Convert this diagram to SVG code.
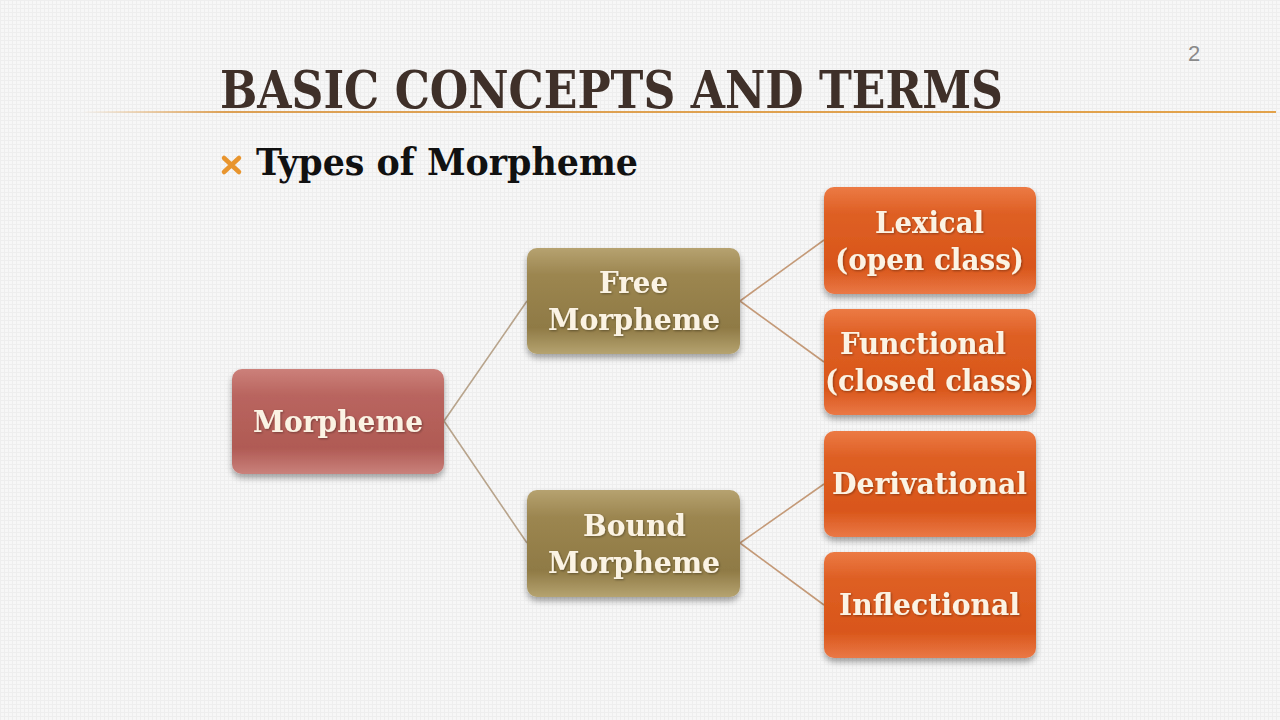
<svg xmlns="http://www.w3.org/2000/svg" width="1280" height="720" viewBox="0 0 1280 720">
<defs>
<pattern id="grid" width="4" height="4" patternUnits="userSpaceOnUse">
<rect width="4" height="4" fill="#f7f7f7"/>
<path d="M0 0.5H4M0.5 0V4" stroke="#eeeeee" stroke-width="1"/>
</pattern>
<linearGradient id="rule" x1="0" x2="1" y1="0" y2="0">
<stop offset="0" stop-color="#e0a050" stop-opacity="0"/>
<stop offset="0.12" stop-color="#dca055"/>
<stop offset="1" stop-color="#e2a24a"/>
</linearGradient>
<linearGradient id="gRose" x1="0" x2="0" y1="0" y2="1">
<stop offset="0" stop-color="#cc807a"/>
<stop offset="0.25" stop-color="#b9655f"/>
<stop offset="0.75" stop-color="#b05a54"/>
<stop offset="1" stop-color="#c9817b"/>
</linearGradient>
<linearGradient id="gOlive" x1="0" x2="0" y1="0" y2="1">
<stop offset="0" stop-color="#b6a270"/>
<stop offset="0.25" stop-color="#9c8650"/>
<stop offset="0.75" stop-color="#8f7a45"/>
<stop offset="1" stop-color="#b5a370"/>
</linearGradient>
<linearGradient id="gOrange" x1="0" x2="0" y1="0" y2="1">
<stop offset="0" stop-color="#ec7a44"/>
<stop offset="0.25" stop-color="#de5f24"/>
<stop offset="0.75" stop-color="#d9561a"/>
<stop offset="1" stop-color="#ea7846"/>
</linearGradient>
<filter id="shadow" x="-10%" y="-10%" width="120%" height="130%">
<feGaussianBlur in="SourceAlpha" stdDeviation="3"/>
<feOffset dx="0" dy="4" result="b"/>
<feComponentTransfer><feFuncA type="linear" slope="0.35"/></feComponentTransfer>
<feMerge><feMergeNode/><feMergeNode in="SourceGraphic"/></feMerge>
</filter>
<filter id="tshadow" x="-5%" y="-20%" width="110%" height="140%">
<feGaussianBlur in="SourceAlpha" stdDeviation="1"/>
<feOffset dx="0.5" dy="1"/>
<feComponentTransfer><feFuncA type="linear" slope="0.35"/></feComponentTransfer>
<feMerge><feMergeNode/><feMergeNode in="SourceGraphic"/></feMerge>
</filter>
</defs>
<style>
.box { filter: url(#shadow); }
.lbl { font-family: "DejaVu Serif", "Liberation Serif", serif; font-weight: bold; font-size: 29px; fill: #fbf3e4; filter: url(#tshadow); }
.conn { fill: none; stroke-width: 1.6; }
.title { font-family: "DejaVu Serif", "Liberation Serif", serif; font-weight: bold; font-size: 53px; fill: #3f3029; }
.sub { font-family: "DejaVu Serif", "Liberation Serif", serif; font-weight: bold; font-size: 38px; fill: #111; }
</style>
<rect width="1280" height="720" fill="url(#grid)"/>

<g id="header">
<rect x="82" y="111" width="1194" height="2" fill="url(#rule)"/>
<text class="title" x="220" y="108" textLength="783" lengthAdjust="spacingAndGlyphs">BASIC CONCEPTS AND TERMS</text>
<text x="1194" y="61" font-family="Liberation Sans, Arial, sans-serif" font-size="22" fill="#8a8a8a" text-anchor="middle">2</text>
<path d="M224 158L239 172M239 158L224 172" stroke="#e8952e" stroke-width="4.5" stroke-linecap="round"/>
<text class="sub" x="256" y="175" textLength="382" lengthAdjust="spacingAndGlyphs">Types of Morpheme</text>
</g>

<g id="connectors">
<path class="conn" stroke="#b8a48c" d="M444 421L527 301M444 421L527 543"/>
<path class="conn" stroke="#c49a78" d="M740 301L824 240M740 301L824 362"/>
<path class="conn" stroke="#c49a78" d="M740 543L824 484M740 543L824 605"/>
</g>

<g id="node-morpheme">
<rect class="box" x="232" y="369" width="212" height="105" rx="10" fill="url(#gRose)"/>
<text class="lbl" x="253" y="432" textLength="170" lengthAdjust="spacingAndGlyphs">Morpheme</text>
</g>

<g id="node-free">
<rect class="box" x="527" y="248" width="213" height="106" rx="10" fill="url(#gOlive)"/>
<text class="lbl" x="599" y="293" textLength="69" lengthAdjust="spacingAndGlyphs">Free</text>
<text class="lbl" x="548" y="330" textLength="172" lengthAdjust="spacingAndGlyphs">Morpheme</text>
</g>

<g id="node-bound">
<rect class="box" x="527" y="490" width="213" height="107" rx="10" fill="url(#gOlive)"/>
<text class="lbl" x="583" y="536" textLength="103" lengthAdjust="spacingAndGlyphs">Bound</text>
<text class="lbl" x="548" y="573" textLength="172" lengthAdjust="spacingAndGlyphs">Morpheme</text>
</g>

<g id="node-lexical">
<rect class="box" x="824" y="187" width="212" height="107" rx="10" fill="url(#gOrange)"/>
<text class="lbl" x="875" y="233" textLength="109" lengthAdjust="spacingAndGlyphs">Lexical</text>
<text class="lbl" x="835" y="270" textLength="189" lengthAdjust="spacingAndGlyphs">(open class)</text>
</g>

<g id="node-functional">
<rect class="box" x="824" y="309" width="212" height="106" rx="10" fill="url(#gOrange)"/>
<text class="lbl" x="840" y="354" textLength="166" lengthAdjust="spacingAndGlyphs">Functional</text>
<text class="lbl" x="825" y="391" textLength="209" lengthAdjust="spacingAndGlyphs">(closed class)</text>
</g>

<g id="node-derivational">
<rect class="box" x="824" y="431" width="212" height="106" rx="10" fill="url(#gOrange)"/>
<text class="lbl" x="832" y="494" textLength="195" lengthAdjust="spacingAndGlyphs">Derivational</text>
</g>

<g id="node-inflectional">
<rect class="box" x="824" y="552" width="212" height="106" rx="10" fill="url(#gOrange)"/>
<text class="lbl" x="839" y="615" textLength="181" lengthAdjust="spacingAndGlyphs">Inflectional</text>
</g>
</svg>
